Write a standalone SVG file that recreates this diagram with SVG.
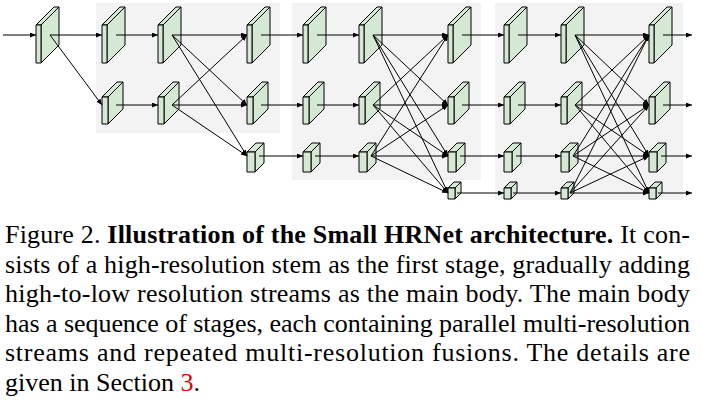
<svg xmlns="http://www.w3.org/2000/svg" xmlns:xlink="http://www.w3.org/1999/xlink" width="702" height="406" viewBox="0 0 702 406">
<style>
.bg{fill:#f3f3f3}
.blk polygon,.blk rect{fill:#d5e8d4;stroke:#000;stroke-width:1;stroke-linejoin:round}
.c line{stroke:#000;stroke-width:1;marker-end:url(#ah)}
.cap{font-family:"Liberation Serif","Times New Roman",serif;font-size:26px;fill:#000}
.b{font-weight:bold}
</style>
<defs>
<marker id="ah" markerUnits="userSpaceOnUse" markerWidth="6" markerHeight="5" refX="6" refY="2.5" orient="auto"><path d="M0,0 L6,2.5 L0,5 z" fill="#000"/></marker>
<g id="b0" class="blk"><polygon points="0,-10 5,-10 23,-28 18,-28"/><polygon points="5,-10 23,-28 23,10 5,28"/><rect x="0" y="-10" width="5" height="38"/></g>
<g id="b1" class="blk"><polygon points="0,-8 6,-8 21,-23 15,-23"/><polygon points="6,-8 21,-23 21,4 6,19"/><rect x="0" y="-8" width="6" height="27"/></g>
<g id="b2" class="blk"><polygon points="0,-4 8,-4 17,-13 9,-13"/><polygon points="8,-4 17,-13 17,7 8,16"/><rect x="0" y="-4" width="8" height="20"/></g>
<g id="b3" class="blk"><polygon points="0,-5 7,-5 13,-11 6,-11"/><polygon points="7,-5 13,-11 13,0 7,6"/><rect x="0" y="-5" width="7" height="11"/></g>
</defs>
<rect width="702" height="406" fill="#fff"/>
<g id="stages">
<rect class="bg" x="96" y="3" width="184" height="130"/>
<rect class="bg" x="292" y="3" width="189" height="177"/>
<rect class="bg" x="495" y="3" width="188" height="197"/>
</g>
<g id="nodes">
<g id="n0_0"><use xlink:href="#b0" x="36" y="35"/></g>
<g id="n1_0"><use xlink:href="#b0" x="102" y="35"/></g>
<g id="n1_1"><use xlink:href="#b1" x="102" y="105"/></g>
<g id="n2_0"><use xlink:href="#b0" x="158" y="35"/></g>
<g id="n2_1"><use xlink:href="#b1" x="158" y="105"/></g>
<g id="n3_0"><use xlink:href="#b0" x="247" y="35"/></g>
<g id="n3_1"><use xlink:href="#b1" x="247" y="105"/></g>
<g id="n3_2"><use xlink:href="#b2" x="247" y="156"/></g>
<g id="n4_0"><use xlink:href="#b0" x="303" y="35"/></g>
<g id="n4_1"><use xlink:href="#b1" x="303" y="105"/></g>
<g id="n4_2"><use xlink:href="#b2" x="303" y="156"/></g>
<g id="n5_0"><use xlink:href="#b0" x="359" y="35"/></g>
<g id="n5_1"><use xlink:href="#b1" x="359" y="105"/></g>
<g id="n5_2"><use xlink:href="#b2" x="359" y="156"/></g>
<g id="n6_0"><use xlink:href="#b0" x="448" y="35"/></g>
<g id="n6_1"><use xlink:href="#b1" x="448" y="105"/></g>
<g id="n6_2"><use xlink:href="#b2" x="448" y="156"/></g>
<g id="n6_3"><use xlink:href="#b3" x="448" y="193"/></g>
<g id="n7_0"><use xlink:href="#b0" x="504" y="35"/></g>
<g id="n7_1"><use xlink:href="#b1" x="504" y="105"/></g>
<g id="n7_2"><use xlink:href="#b2" x="504" y="156"/></g>
<g id="n7_3"><use xlink:href="#b3" x="504" y="193"/></g>
<g id="n8_0"><use xlink:href="#b0" x="561" y="35"/></g>
<g id="n8_1"><use xlink:href="#b1" x="561" y="105"/></g>
<g id="n8_2"><use xlink:href="#b2" x="561" y="156"/></g>
<g id="n8_3"><use xlink:href="#b3" x="561" y="193"/></g>
<g id="n9_0"><use xlink:href="#b0" x="649" y="35"/></g>
<g id="n9_1"><use xlink:href="#b1" x="649" y="105"/></g>
<g id="n9_2"><use xlink:href="#b2" x="649" y="156"/></g>
<g id="n9_3"><use xlink:href="#b3" x="649" y="193"/></g>
</g>
<g id="connectors" class="c">
<line x1="3" y1="35" x2="36" y2="35"/>
<line x1="50" y1="35" x2="102" y2="35"/>
<line x1="50" y1="35" x2="102" y2="105"/>
<line x1="116" y1="35" x2="158" y2="35"/>
<line x1="116" y1="105" x2="158" y2="105"/>
<line x1="172" y1="35" x2="247" y2="35"/>
<line x1="172" y1="35" x2="247" y2="105"/>
<line x1="172" y1="35" x2="247" y2="156"/>
<line x1="172" y1="105" x2="247" y2="35"/>
<line x1="172" y1="105" x2="247" y2="105"/>
<line x1="172" y1="105" x2="247" y2="156"/>
<line x1="261" y1="35" x2="303" y2="35"/>
<line x1="261" y1="105" x2="303" y2="105"/>
<line x1="259" y1="156" x2="303" y2="156"/>
<line x1="317" y1="35" x2="359" y2="35"/>
<line x1="317" y1="105" x2="359" y2="105"/>
<line x1="315" y1="156" x2="359" y2="156"/>
<line x1="373" y1="35" x2="448" y2="35"/>
<line x1="373" y1="35" x2="448" y2="105"/>
<line x1="373" y1="35" x2="448" y2="156"/>
<line x1="373" y1="35" x2="448" y2="193"/>
<line x1="373" y1="105" x2="448" y2="35"/>
<line x1="373" y1="105" x2="448" y2="105"/>
<line x1="373" y1="105" x2="448" y2="156"/>
<line x1="373" y1="105" x2="448" y2="193"/>
<line x1="371" y1="156" x2="448" y2="35"/>
<line x1="371" y1="156" x2="448" y2="105"/>
<line x1="371" y1="156" x2="448" y2="156"/>
<line x1="371" y1="156" x2="448" y2="193"/>
<line x1="462" y1="35" x2="504" y2="35"/>
<line x1="462" y1="105" x2="504" y2="105"/>
<line x1="460" y1="156" x2="504" y2="156"/>
<line x1="457" y1="193" x2="504" y2="193"/>
<line x1="518" y1="35" x2="561" y2="35"/>
<line x1="518" y1="105" x2="561" y2="105"/>
<line x1="516" y1="156" x2="561" y2="156"/>
<line x1="513" y1="193" x2="561" y2="193"/>
<line x1="575" y1="35" x2="649" y2="35"/>
<line x1="575" y1="35" x2="649" y2="105"/>
<line x1="575" y1="35" x2="649" y2="156"/>
<line x1="575" y1="35" x2="649" y2="193"/>
<line x1="575" y1="105" x2="649" y2="35"/>
<line x1="575" y1="105" x2="649" y2="105"/>
<line x1="575" y1="105" x2="649" y2="156"/>
<line x1="575" y1="105" x2="649" y2="193"/>
<line x1="573" y1="156" x2="649" y2="35"/>
<line x1="573" y1="156" x2="649" y2="105"/>
<line x1="573" y1="156" x2="649" y2="156"/>
<line x1="573" y1="156" x2="649" y2="193"/>
<line x1="570" y1="193" x2="649" y2="35"/>
<line x1="570" y1="193" x2="649" y2="105"/>
<line x1="570" y1="193" x2="649" y2="156"/>
<line x1="570" y1="193" x2="649" y2="193"/>
<line x1="663" y1="35" x2="692" y2="35"/>
<line x1="663" y1="105" x2="692" y2="105"/>
<line x1="661" y1="156" x2="692" y2="156"/>
<line x1="658" y1="193" x2="692" y2="193"/>
</g>
<g id="caption" class="cap">
<text x="5" y="243" textLength="685" lengthAdjust="spacing">Figure 2. <tspan class="b">Illustration of the Small HRNet architecture.</tspan> It con-</text>
<text x="5" y="272.6" textLength="685" lengthAdjust="spacing">sists of a high-resolution stem as the first stage, gradually adding</text>
<text x="5" y="302.2" textLength="685" lengthAdjust="spacing">high-to-low resolution streams as the main body.  The main body</text>
<text x="5" y="331.8" textLength="685" lengthAdjust="spacing">has a sequence of stages, each containing parallel multi-resolution</text>
<text x="5" y="361.4" textLength="685" lengthAdjust="spacing">streams and repeated multi-resolution fusions.  The details are</text>
<text x="5" y="391">given in Section <tspan fill="#e00000">3</tspan>.</text>
</g>
</svg>
